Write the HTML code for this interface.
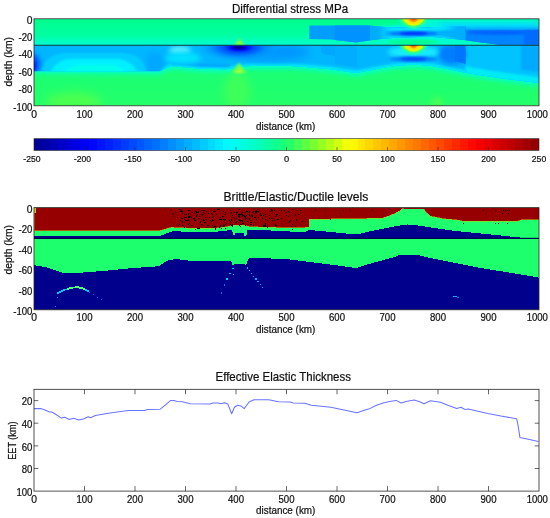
<!DOCTYPE html>
<html><head><meta charset="utf-8"><title>Figure</title>
<style>html,body{margin:0;padding:0;background:#fff}svg{display:block}text{stroke:#111;stroke-width:.22px}</style></head>
<body>
<svg width="550" height="518" viewBox="0 0 550 518" font-family='"Liberation Sans", sans-serif' fill="#111">
<defs>
<filter id="b1" x="-30%" y="-150%" width="160%" height="400%"><feGaussianBlur stdDeviation="1.2"/></filter>
<filter id="b2" x="-30%" y="-150%" width="160%" height="400%"><feGaussianBlur stdDeviation="2.5"/></filter>
<filter id="b3" x="-30%" y="-150%" width="160%" height="400%"><feGaussianBlur stdDeviation="4"/></filter>
<clipPath id="c1"><rect x="34.0" y="18.8" width="505.0" height="87.0"/></clipPath>
<clipPath id="c2"><rect x="34.0" y="207.6" width="505.0" height="102.20000000000002"/></clipPath>
</defs>
<defs>
<linearGradient id="gu" x1="0" y1="0" x2="0" y2="1"><stop offset="0" stop-color="#00ff8c"/><stop offset="0.6" stop-color="#00ffa0"/><stop offset="1" stop-color="#00ffd0"/></linearGradient>
<linearGradient id="gl" x1="0" y1="0" x2="0" y2="1"><stop offset="0" stop-color="#14ff7d"/><stop offset="1" stop-color="#23ff69"/></linearGradient>
<radialGradient id="hs"><stop offset="0" stop-color="#ff2800"/><stop offset="0.28" stop-color="#ff9600"/><stop offset="0.48" stop-color="#f5fa00"/><stop offset="0.7" stop-color="#82ff3c"/><stop offset="1" stop-color="#28ff82" stop-opacity="0"/></radialGradient>
<radialGradient id="ds"><stop offset="0" stop-color="#00008c"/><stop offset="0.09" stop-color="#0000a5"/><stop offset="0.17" stop-color="#0000f0"/><stop offset="0.34" stop-color="#004bff"/><stop offset="0.62" stop-color="#008aff"/><stop offset="1" stop-color="#00acff" stop-opacity="0"/></radialGradient>
<clipPath id="cu"><rect x="34.0" y="18.8" width="505.0" height="26.45"/></clipPath>
<clipPath id="cl"><rect x="34.0" y="45.25" width="505.0" height="60.55"/></clipPath>
<clipPath id="cb"><polygon points="34.0,45.2 539.0,45.2 539.0,83.0 507.0,79.0 481.0,75.3 465.6,72.8 450.0,69.5 432.0,66.0 420.0,65.0 413.0,64.8 407.0,65.0 394.5,66.0 382.0,68.0 369.0,70.5 356.0,73.0 331.0,69.2 305.0,67.0 290.0,66.0 250.0,66.0 226.0,69.2 201.0,68.7 175.5,66.4 168.0,67.2 160.0,71.3 34.0,71.3"/></clipPath>
<clipPath id="cub"><polygon points="309.3,25.5 369.0,25.5 385.0,27.0 400.0,27.5 413.0,27.5 426.0,27.5 440.0,27.0 465.6,26.5 465.6,29.8 539.0,29.8 539.0,44.8 499.0,44.7 481.0,42.4 465.6,40.2 440.0,37.4 426.0,36.6 413.0,37.3 400.0,37.5 385.0,38.5 369.0,40.5 356.0,42.5 331.0,39.5 309.3,39.0"/></clipPath>
<filter id="b0" x="-10%" y="-50%" width="120%" height="200%"><feGaussianBlur stdDeviation="0.6"/></filter>
</defs>
<g clip-path="url(#c1)">
<rect x="34.0" y="18.8" width="505.0" height="26.45" fill="url(#gu)"/>
<rect x="34.0" y="45.25" width="505.0" height="60.55" fill="url(#gl)"/>
<ellipse cx="74" cy="102" rx="28" ry="10" fill="#4bff50" filter="url(#b3)"/>
<ellipse cx="237" cy="92" rx="13" ry="20" fill="#3cff5a" filter="url(#b3)"/>
<ellipse cx="437" cy="103" rx="6" ry="6" fill="#46ff55" filter="url(#b2)"/>
<g clip-path="url(#cl)">
<polygon points="34.0,45.2 539.0,45.2 539.0,85.5 507.0,81.5 481.0,77.8 465.6,75.3 450.0,72.0 432.0,68.5 420.0,67.5 413.0,67.3 407.0,67.5 394.5,68.5 382.0,70.5 369.0,73.0 356.0,75.5 331.0,71.7 305.0,69.5 290.0,68.5 250.0,68.5 226.0,71.7 201.0,71.2 175.5,68.9 168.0,69.7 160.0,73.8 34.0,72.9" fill="#00ffd7" filter="url(#b2)"/>
<g filter="url(#b0)"><g clip-path="url(#cb)">
<rect x="34.0" y="43.25" width="505.0" height="40" fill="#00b6ff"/>
<polygon points="160.0,67.5 168.0,63.4 175.5,62.6 201.0,64.9 226.0,65.4 250.0,62.2 290.0,62.2 305.0,63.2 331.0,65.4 356.0,69.2 369.0,66.7 382.0,64.2 394.5,62.2 407.0,61.2 413.0,61.0 420.0,61.2 432.0,62.2 450.0,65.7 465.6,69.0 481.0,71.5 507.0,75.2 539.0,79.2 539.0,90.0 160.0,90.0" fill="#00c6ff" filter="url(#b1)"/>
<polygon points="160.0,69.6 168.0,65.5 175.5,64.7 201.0,67.0 226.0,67.5 250.0,64.3 290.0,64.3 305.0,65.3 331.0,67.5 356.0,71.3 369.0,68.8 382.0,66.3 394.5,64.3 407.0,63.3 413.0,63.1 420.0,63.3 432.0,64.3 450.0,67.8 465.6,71.1 481.0,73.6 507.0,77.3 539.0,81.3 539.0,90.0 160.0,90.0" fill="#00f0f0" filter="url(#b1)"/>
<rect x="41" y="53" width="106" height="42" rx="24" fill="#00cdff" filter="url(#b1)"/>
<rect x="50" y="59" width="88" height="36" rx="22" fill="#00f0ff" filter="url(#b1)"/>
<rect x="62" y="65" width="66" height="30" rx="18" fill="#00ffeb" filter="url(#b1)"/>
<ellipse cx="33" cy="64" rx="7" ry="10" fill="#004bff" filter="url(#b2)"/>
<ellipse cx="32" cy="66" rx="4" ry="6" fill="#001eff" filter="url(#b1)"/>
<polygon points="147.0,53.0 160.0,53.0 166.0,62.0 160.0,73.0 147.0,73.0" fill="#00a8ff" filter="url(#b2)"/>
<polygon points="172.0,62.5 201.0,64.5 230.0,65.0 230.0,66.8 201.0,66.5 172.0,64.3" fill="#0096ff" filter="url(#b1)"/>
<ellipse cx="180" cy="50.5" rx="11" ry="4.5" fill="#5af0ff" filter="url(#b2)"/>
<ellipse cx="183" cy="58" rx="18" ry="6" fill="#00e1ff" filter="url(#b2)"/>
<polygon points="465.6,43.2 539.0,43.2 539.0,90.0 465.6,90.0" fill="#00c3ff"/>
<polygon points="465.6,66.0 481.0,69.0 507.0,73.0 539.0,77.0 539.0,90.0 465.6,90.0" fill="#00ebf5" filter="url(#b1)"/>
<polygon points="521.0,43.2 539.0,43.2 539.0,72.0 521.0,70.0" fill="#00aaff" filter="url(#b1)"/>
<ellipse cx="452" cy="54" rx="14" ry="10" fill="#007dff" filter="url(#b2)"/>
<polygon points="455.0,43.2 465.6,43.2 465.6,64.0 455.0,61.0" fill="#0076ff" filter="url(#b0)"/>
<polygon points="320.0,43.2 335.0,43.2 335.0,56.0 322.0,54.0" fill="#00a8ff" filter="url(#b0)"/>
<polygon points="335.0,43.2 357.0,43.2 357.0,67.0 335.0,64.0" fill="#00adff" filter="url(#b0)"/>
<ellipse cx="413.5" cy="52" rx="26" ry="5.5" fill="#14eeff" filter="url(#b2)"/>
<ellipse cx="413.5" cy="59" rx="24" ry="2.6" fill="#0082ff" filter="url(#b1)"/>
<ellipse cx="413.5" cy="59" rx="13" ry="1.7" fill="#0046ff" filter="url(#b1)"/>
<ellipse cx="270" cy="52" rx="40" ry="9" fill="#0096ff" filter="url(#b3)"/>
<ellipse cx="239.2" cy="47.4" rx="42" ry="14.5" fill="url(#ds)"/>
</g></g>
<polygon points="398.5,44.6 428.5,44.6 425.5,49.5 419.8,53.5 413.5,54.8 407.2,53.5 401.5,49.5" fill="#00ffc8" filter="url(#b1)"/>
<polygon points="400.9,44.6 426.1,44.6 423.6,48.8 418.8,52.0 413.5,53.2 408.2,52.0 403.4,48.8" fill="#64ff50" filter="url(#b1)"/>
<polygon points="403.1,44.6 423.9,44.6 421.8,48.2 417.9,50.8 413.5,51.8 409.1,50.8 405.2,48.2" fill="#d7ff00" filter="url(#b0)"/>
<polygon points="406.1,44.6 420.9,44.6 419.4,47.5 416.6,49.5 413.5,50.2 410.4,49.5 407.6,47.5" fill="#ffe100" filter="url(#b0)"/>
<polygon points="408.9,44.6 418.1,44.6 417.2,46.8 415.4,48.1 413.5,48.5 411.6,48.1 409.8,46.8" fill="#ffa000" filter="url(#b0)"/>
<polygon points="411.1,44.6 415.9,44.6 415.4,46.2 414.5,46.9 413.5,47.1 412.5,46.9 411.6,46.2" fill="#ff6400" filter="url(#b0)"/>
</g>
<polygon points="232.0,73.0 246.5,73.0 238.9,62.5" fill="#73ff46" filter="url(#b1)"/>
<ellipse cx="239" cy="71.2" rx="3.5" ry="1.6" fill="#aaff3c" filter="url(#b1)"/>
<g clip-path="url(#cu)">
<polygon points="420.0,20.0 539.0,20.0 539.0,30.0 465.0,30.0 420.0,27.0" fill="#00f5e1" filter="url(#b2)"/>
<polygon points="440.0,23.5 539.0,23.5 539.0,31.0 440.0,31.0" fill="#00d7ff" filter="url(#b2)"/>
<polygon points="465.6,27.0 539.0,27.0 539.0,31.0 465.6,31.0" fill="#00b4ff" filter="url(#b1)"/>
<polygon points="430.0,36.0 465.6,40.5 481.0,43.0 501.0,45.0 430.0,45.0" fill="#00ffcd" filter="url(#b1)"/>
<polygon points="378.0,26.5 400.0,25.0 427.0,25.0 450.0,26.5 450.0,39.5 427.0,39.0 400.0,39.0 378.0,39.8" fill="#00f5e8" filter="url(#b1)"/>
<ellipse cx="413.5" cy="42" rx="26" ry="2.2" fill="#00ff8c" filter="url(#b1)"/>
<g filter="url(#b0)"><g clip-path="url(#cub)">
<rect x="309" y="18.8" width="231" height="26.45" fill="#009eff"/>
<polygon points="334.7,20.0 370.0,20.0 370.0,45.0 334.7,45.0" fill="#0092ff"/>
<polygon points="370.0,20.0 465.6,20.0 465.6,45.0 370.0,45.0" fill="#00acff"/>
<polygon points="384.0,20.0 452.0,20.0 452.0,45.0 384.0,45.0" fill="#00e4ff" filter="url(#b3)"/>
<polygon points="385.0,30.5 400.0,31.5 427.0,31.5 442.0,30.5 465.6,28.5 465.6,39.0 442.0,36.5 427.0,35.5 400.0,35.5 385.0,36.5" fill="#00afff" filter="url(#b1)"/>
<ellipse cx="413.5" cy="33.5" rx="24" ry="2.3" fill="#0078ff" filter="url(#b1)"/>
<ellipse cx="413.5" cy="33.5" rx="14" ry="1.6" fill="#002dff" filter="url(#b1)"/>
<polygon points="465.6,20.0 539.0,20.0 539.0,45.0 465.6,45.0" fill="#0084ff"/>
<ellipse cx="500" cy="32.6" rx="33" ry="2.4" fill="#0064ff" filter="url(#b1)"/>
<polygon points="524.0,20.0 539.0,20.0 539.0,45.0 524.0,45.0" fill="#006cff" filter="url(#b1)"/>
</g></g>
<polygon points="397.4,18.2 429.6,18.2 426.3,23.4 420.2,27.7 413.5,29.2 406.8,27.7 400.7,23.4" fill="#00ffc8" filter="url(#b1)"/>
<polygon points="400.0,18.2 427.0,18.2 424.3,22.6 419.2,26.1 413.5,27.4 407.8,26.1 402.7,22.6" fill="#64ff50" filter="url(#b1)"/>
<polygon points="402.4,18.2 424.6,18.2 422.4,22.0 418.2,24.9 413.5,25.8 408.8,24.9 404.6,22.0" fill="#d7ff00" filter="url(#b0)"/>
<polygon points="405.6,18.2 421.4,18.2 419.8,21.3 416.8,23.4 413.5,24.1 410.2,23.4 407.2,21.3" fill="#ffe100" filter="url(#b0)"/>
<polygon points="408.6,18.2 418.4,18.2 417.4,20.5 415.6,21.9 413.5,22.3 411.4,21.9 409.6,20.5" fill="#ffa000" filter="url(#b0)"/>
<polygon points="410.9,18.2 416.1,18.2 415.6,19.9 414.6,20.6 413.5,20.8 412.4,20.6 411.4,19.9" fill="#ff6400" filter="url(#b0)"/>
<polygon points="234.0,45.5 245.5,45.5 239.5,38.0" fill="#69ff50" filter="url(#b1)"/>
<ellipse cx="239.5" cy="43.5" rx="2.5" ry="1.3" fill="#96ff3c" filter="url(#b1)"/>
</g>
<path d="M34.0 45.25H539.0" stroke="#102030" stroke-width="0.9"/>
</g>
<defs><linearGradient id="cbg" x1="0" y1="0" x2="1" y2="0"><stop offset="0.00000" stop-color="#000097"/><stop offset="0.01562" stop-color="#000097"/><stop offset="0.01562" stop-color="#0000a7"/><stop offset="0.03125" stop-color="#0000a7"/><stop offset="0.03125" stop-color="#0000b7"/><stop offset="0.04688" stop-color="#0000b7"/><stop offset="0.04688" stop-color="#0000c7"/><stop offset="0.06250" stop-color="#0000c7"/><stop offset="0.06250" stop-color="#0000d7"/><stop offset="0.07812" stop-color="#0000d7"/><stop offset="0.07812" stop-color="#0000e6"/><stop offset="0.09375" stop-color="#0000e6"/><stop offset="0.09375" stop-color="#0000f6"/><stop offset="0.10938" stop-color="#0000f6"/><stop offset="0.10938" stop-color="#0006ff"/><stop offset="0.12500" stop-color="#0006ff"/><stop offset="0.12500" stop-color="#0014ff"/><stop offset="0.14062" stop-color="#0014ff"/><stop offset="0.14062" stop-color="#0021ff"/><stop offset="0.15625" stop-color="#0021ff"/><stop offset="0.15625" stop-color="#002eff"/><stop offset="0.17188" stop-color="#002eff"/><stop offset="0.17188" stop-color="#003cff"/><stop offset="0.18750" stop-color="#003cff"/><stop offset="0.18750" stop-color="#0049ff"/><stop offset="0.20312" stop-color="#0049ff"/><stop offset="0.20312" stop-color="#0057ff"/><stop offset="0.21875" stop-color="#0057ff"/><stop offset="0.21875" stop-color="#0064ff"/><stop offset="0.23438" stop-color="#0064ff"/><stop offset="0.23438" stop-color="#0071ff"/><stop offset="0.25000" stop-color="#0071ff"/><stop offset="0.25000" stop-color="#0080ff"/><stop offset="0.26562" stop-color="#0080ff"/><stop offset="0.26562" stop-color="#008fff"/><stop offset="0.28125" stop-color="#008fff"/><stop offset="0.28125" stop-color="#009eff"/><stop offset="0.29688" stop-color="#009eff"/><stop offset="0.29688" stop-color="#00adff"/><stop offset="0.31250" stop-color="#00adff"/><stop offset="0.31250" stop-color="#00bcff"/><stop offset="0.32812" stop-color="#00bcff"/><stop offset="0.32812" stop-color="#00cbff"/><stop offset="0.34375" stop-color="#00cbff"/><stop offset="0.34375" stop-color="#00dbff"/><stop offset="0.35938" stop-color="#00dbff"/><stop offset="0.35938" stop-color="#00eaff"/><stop offset="0.37500" stop-color="#00eaff"/><stop offset="0.37500" stop-color="#00f9ff"/><stop offset="0.39062" stop-color="#00f9ff"/><stop offset="0.39062" stop-color="#00fbf0"/><stop offset="0.40625" stop-color="#00fbf0"/><stop offset="0.40625" stop-color="#00fddf"/><stop offset="0.42188" stop-color="#00fddf"/><stop offset="0.42188" stop-color="#00fece"/><stop offset="0.43750" stop-color="#00fece"/><stop offset="0.43750" stop-color="#02ffbc"/><stop offset="0.45312" stop-color="#02ffbc"/><stop offset="0.45312" stop-color="#09ffa7"/><stop offset="0.46875" stop-color="#09ffa7"/><stop offset="0.46875" stop-color="#0fff92"/><stop offset="0.48438" stop-color="#0fff92"/><stop offset="0.48438" stop-color="#16ff7d"/><stop offset="0.50000" stop-color="#16ff7d"/><stop offset="0.50000" stop-color="#27ff69"/><stop offset="0.51562" stop-color="#27ff69"/><stop offset="0.51562" stop-color="#42ff56"/><stop offset="0.53125" stop-color="#42ff56"/><stop offset="0.53125" stop-color="#5dff42"/><stop offset="0.54688" stop-color="#5dff42"/><stop offset="0.54688" stop-color="#79ff2f"/><stop offset="0.56250" stop-color="#79ff2f"/><stop offset="0.56250" stop-color="#96ff22"/><stop offset="0.57812" stop-color="#96ff22"/><stop offset="0.57812" stop-color="#b4ff18"/><stop offset="0.59375" stop-color="#b4ff18"/><stop offset="0.59375" stop-color="#d2ff0e"/><stop offset="0.60938" stop-color="#d2ff0e"/><stop offset="0.60938" stop-color="#f0ff05"/><stop offset="0.62500" stop-color="#f0ff05"/><stop offset="0.62500" stop-color="#fff700"/><stop offset="0.64062" stop-color="#fff700"/><stop offset="0.64062" stop-color="#ffe700"/><stop offset="0.65625" stop-color="#ffe700"/><stop offset="0.65625" stop-color="#ffd700"/><stop offset="0.67188" stop-color="#ffd700"/><stop offset="0.67188" stop-color="#ffc700"/><stop offset="0.68750" stop-color="#ffc700"/><stop offset="0.68750" stop-color="#ffb800"/><stop offset="0.70312" stop-color="#ffb800"/><stop offset="0.70312" stop-color="#ffa800"/><stop offset="0.71875" stop-color="#ffa800"/><stop offset="0.71875" stop-color="#ff9800"/><stop offset="0.73438" stop-color="#ff9800"/><stop offset="0.73438" stop-color="#ff8800"/><stop offset="0.75000" stop-color="#ff8800"/><stop offset="0.75000" stop-color="#ff7800"/><stop offset="0.76562" stop-color="#ff7800"/><stop offset="0.76562" stop-color="#ff6800"/><stop offset="0.78125" stop-color="#ff6800"/><stop offset="0.78125" stop-color="#ff5800"/><stop offset="0.79688" stop-color="#ff5800"/><stop offset="0.79688" stop-color="#ff4800"/><stop offset="0.81250" stop-color="#ff4800"/><stop offset="0.81250" stop-color="#ff3800"/><stop offset="0.82812" stop-color="#ff3800"/><stop offset="0.82812" stop-color="#ff2800"/><stop offset="0.84375" stop-color="#ff2800"/><stop offset="0.84375" stop-color="#ff1800"/><stop offset="0.85938" stop-color="#ff1800"/><stop offset="0.85938" stop-color="#ff0800"/><stop offset="0.87500" stop-color="#ff0800"/><stop offset="0.87500" stop-color="#f80000"/><stop offset="0.89062" stop-color="#f80000"/><stop offset="0.89062" stop-color="#e90000"/><stop offset="0.90625" stop-color="#e90000"/><stop offset="0.90625" stop-color="#db0000"/><stop offset="0.92188" stop-color="#db0000"/><stop offset="0.92188" stop-color="#cd0000"/><stop offset="0.93750" stop-color="#cd0000"/><stop offset="0.93750" stop-color="#be0000"/><stop offset="0.95312" stop-color="#be0000"/><stop offset="0.95312" stop-color="#b00000"/><stop offset="0.96875" stop-color="#b00000"/><stop offset="0.96875" stop-color="#a20000"/><stop offset="0.98438" stop-color="#a20000"/><stop offset="0.98438" stop-color="#930000"/><stop offset="1.00000" stop-color="#930000"/></linearGradient></defs>
<rect x="34.0" y="138.7" width="505.0" height="11.7" fill="url(#cbg)" stroke="#262626" stroke-width="0.6"/>
<text x="31.9" y="162.4" font-size="9.3" text-anchor="middle" textLength="17.3" lengthAdjust="spacingAndGlyphs">-250</text>
<path d="M84.5 150.4v-3.2" stroke="#262626" stroke-width="0.6"/>
<text x="82.4" y="162.4" font-size="9.3" text-anchor="middle" textLength="17.3" lengthAdjust="spacingAndGlyphs">-200</text>
<path d="M135.0 150.4v-3.2" stroke="#262626" stroke-width="0.6"/>
<text x="132.9" y="162.4" font-size="9.3" text-anchor="middle" textLength="17.3" lengthAdjust="spacingAndGlyphs">-150</text>
<path d="M185.5 150.4v-3.2" stroke="#262626" stroke-width="0.6"/>
<text x="183.4" y="162.4" font-size="9.3" text-anchor="middle" textLength="17.3" lengthAdjust="spacingAndGlyphs">-100</text>
<path d="M236.0 150.4v-3.2" stroke="#262626" stroke-width="0.6"/>
<text x="233.9" y="162.4" font-size="9.3" text-anchor="middle" textLength="12.5" lengthAdjust="spacingAndGlyphs">-50</text>
<path d="M286.5 150.4v-3.2" stroke="#262626" stroke-width="0.6"/>
<text x="286.5" y="162.4" font-size="9.3" text-anchor="middle">0</text>
<path d="M337.0 150.4v-3.2" stroke="#262626" stroke-width="0.6"/>
<text x="337.0" y="162.4" font-size="9.3" text-anchor="middle" textLength="9.6" lengthAdjust="spacingAndGlyphs">50</text>
<path d="M387.5 150.4v-3.2" stroke="#262626" stroke-width="0.6"/>
<text x="387.5" y="162.4" font-size="9.3" text-anchor="middle" textLength="14.4" lengthAdjust="spacingAndGlyphs">100</text>
<path d="M438.0 150.4v-3.2" stroke="#262626" stroke-width="0.6"/>
<text x="438.0" y="162.4" font-size="9.3" text-anchor="middle" textLength="14.4" lengthAdjust="spacingAndGlyphs">150</text>
<path d="M488.5 150.4v-3.2" stroke="#262626" stroke-width="0.6"/>
<text x="488.5" y="162.4" font-size="9.3" text-anchor="middle" textLength="14.4" lengthAdjust="spacingAndGlyphs">200</text>
<text x="539.0" y="162.4" font-size="9.3" text-anchor="middle" textLength="14.4" lengthAdjust="spacingAndGlyphs">250</text>
<g clip-path="url(#c2)" shape-rendering="crispEdges">
<rect x="34.0" y="207.6" width="505.0" height="102.20000000000002" fill="#00008c"/>
<rect x="34.0" y="207.6" width="505.0" height="28.9" fill="#1eff6e"/>
<polygon points="34.0,238.9 539.0,238.9 539.0,277.8 532.3,276.3 506.8,272.2 481.4,268.1 456.0,263.0 430.5,258.0 417.7,254.9 399.6,254.9 394.5,257.0 381.8,260.5 369.0,264.0 356.4,268.1 331.0,264.6 305.5,261.5 290.0,259.5 264.5,258.2 252.4,257.8 248.6,258.6 247.2,262.0 246.0,266.2 244.2,263.6 234.2,263.6 233.0,266.8 232.2,263.6 230.3,260.4 226.0,261.0 213.6,261.2 188.0,260.5 175.5,259.0 167.8,260.5 160.0,265.1 159.8,266.1 147.0,267.1 131.8,268.1 106.4,270.7 81.0,272.7 63.0,272.7 45.0,267.0 34.0,265.1" fill="#1eff6e"/>
<polygon points="34.0,236.3 155.0,236.3 160.0,235.8 173.0,231.0 195.8,232.5 213.6,232.0 226.0,230.6 231.9,230.0 233.6,234.8 235.2,234.8 235.5,232.6 244.0,232.6 244.4,235.6 246.4,235.6 247.0,229.6 264.5,230.2 290.0,231.5 305.5,231.5 309.3,230.0 331.0,232.0 356.4,234.5 369.0,231.5 381.8,229.0 394.5,226.4 407.3,224.4 417.7,225.4 430.5,227.4 456.0,231.0 481.4,233.5 506.8,236.1 519.5,237.6 539.0,238.9 34.0,238.9" fill="#00008c"/>
<rect x="519.5" y="236" width="20" height="1.9" fill="#1eff6e"/>
<polygon points="34.0,207.6 539.0,207.6 539.0,219.8 522.0,219.8 517.0,221.3 463.5,221.3 456.0,219.8 443.0,218.8 430.5,216.2 425.4,211.6 424.0,208.8 404.7,208.8 402.0,209.0 394.5,213.7 387.0,216.7 381.8,218.3 309.3,219.3 309.3,227.4 290.0,227.9 272.0,227.4 258.0,227.0 249.0,226.5 244.0,225.1 235.0,225.1 231.0,225.8 226.0,226.9 213.6,228.4 195.8,228.4 171.6,227.4 160.0,230.5 34.0,230.5" fill="#960000" stroke="#c8c000" stroke-width="0.5"/>
<rect x="404" y="207.6" width="21" height="1.7" fill="#960000"/>
<rect x="34.0" y="207.6" width="1.8" height="5.6" fill="#ffb000"/><rect x="34.0" y="207.6" width="1.3" height="5.4" fill="#40ff70"/>
<rect x="34.0" y="237.8" width="505.0" height="1.1" fill="#000048" shape-rendering="geometricPrecision"/>
<rect x="57.0" y="291.8" width="2" height="1.7" fill="#00c8ff"/>
<rect x="59.0" y="290.8" width="2" height="1.7" fill="#00c8ff"/>
<rect x="61.0" y="289.8" width="2" height="1.7" fill="#00c8ff"/>
<rect x="63.0" y="289.2" width="2" height="1.7" fill="#00c8ff"/>
<rect x="65.0" y="288.6" width="2" height="1.7" fill="#00c8ff"/>
<rect x="67.0" y="287.8" width="2" height="1.7" fill="#50ff80"/>
<rect x="69.0" y="287.2" width="2" height="1.7" fill="#50ff80"/>
<rect x="71.0" y="286.8" width="2" height="1.7" fill="#50ff80"/>
<rect x="73.0" y="286.6" width="2" height="1.7" fill="#50ff80"/>
<rect x="75.0" y="286.4" width="2" height="1.7" fill="#50ff80"/>
<rect x="77.0" y="286.4" width="2" height="1.7" fill="#50ff80"/>
<rect x="79.0" y="286.8" width="2" height="1.7" fill="#50ff80"/>
<rect x="81.0" y="287.4" width="2" height="1.7" fill="#50ff80"/>
<rect x="83.0" y="288.2" width="2" height="1.7" fill="#50ff80"/>
<rect x="85.0" y="289.2" width="2" height="1.7" fill="#00c8ff"/>
<rect x="87.0" y="290.4" width="2" height="1.7" fill="#00c8ff"/>
<rect x="89.0" y="291.6" width="1.4" height="1.4" fill="#0060ff"/>
<rect x="93.0" y="294.0" width="1.4" height="1.4" fill="#0060ff"/>
<rect x="97.0" y="296.6" width="1.4" height="1.4" fill="#0060ff"/>
<rect x="101.0" y="298.8" width="1.4" height="1.4" fill="#0060ff"/>
<rect x="55" y="306" width="1.2" height="1.2" fill="#0080ff"/><rect x="57" y="296.5" width="1.2" height="1.2" fill="#0080ff"/>
<rect x="232.3" y="267.8" width="1.2" height="1.2" fill="#00d0ff"/>
<rect x="229.3" y="273.1" width="1.2" height="1.2" fill="#00d0ff"/>
<rect x="226.4" y="278.4" width="1.2" height="1.2" fill="#00d0ff"/>
<rect x="223.9" y="284.4" width="1.2" height="1.2" fill="#0070ff"/>
<rect x="221.2" y="292.4" width="1.2" height="1.2" fill="#0070ff"/>
<rect x="246.9" y="267.3" width="1.2" height="1.2" fill="#00b0ff"/>
<rect x="249.0" y="270.1" width="1.2" height="1.2" fill="#00b0ff"/>
<rect x="251.1" y="272.8" width="1.2" height="1.2" fill="#00b0ff"/>
<rect x="253.2" y="275.6" width="1.2" height="1.2" fill="#00b0ff"/>
<rect x="255.3" y="278.3" width="1.2" height="1.2" fill="#00b0ff"/>
<rect x="257.4" y="281.1" width="1.2" height="1.2" fill="#00b0ff"/>
<rect x="259.5" y="283.8" width="1.2" height="1.2" fill="#00b0ff"/>
<rect x="261.6" y="286.6" width="1.2" height="1.2" fill="#00b0ff"/>
<rect x="453.4" y="296.2" width="3.5" height="0.8" fill="#00b4ff"/><rect x="457.2" y="297" width="1.6" height="0.8" fill="#0070ff"/>
<rect x="233" y="274" width="1" height="1" fill="#00c0ff"/>
<rect x="170" y="210" width="1.35" height="1.35" fill="#0c0000"/>
<rect x="172" y="213" width="1.35" height="1.35" fill="#0c0000"/>
<rect x="173" y="214" width="1.35" height="1.35" fill="#0c0000"/>
<rect x="173" y="216" width="1.35" height="1.35" fill="#0c0000"/>
<rect x="175" y="212" width="1.35" height="1.35" fill="#0c0000"/>
<rect x="178" y="225" width="1.35" height="1.35" fill="#0c0000"/>
<rect x="179" y="209" width="1.35" height="1.35" fill="#0c0000"/>
<rect x="179" y="224" width="1.35" height="1.35" fill="#0c0000"/>
<rect x="180" y="209" width="1.35" height="1.35" fill="#0c0000"/>
<rect x="180" y="211" width="1.35" height="1.35" fill="#0c0000"/>
<rect x="180" y="220" width="1.35" height="1.35" fill="#0c0000"/>
<rect x="181" y="210" width="1.35" height="1.35" fill="#0c0000"/>
<rect x="181" y="211" width="1.35" height="1.35" fill="#0c0000"/>
<rect x="181" y="218" width="1.35" height="1.35" fill="#0c0000"/>
<rect x="182" y="211" width="1.35" height="1.35" fill="#0c0000"/>
<rect x="182" y="213" width="1.35" height="1.35" fill="#0c0000"/>
<rect x="182" y="218" width="1.35" height="1.35" fill="#0c0000"/>
<rect x="182" y="221" width="1.35" height="1.35" fill="#0c0000"/>
<rect x="182" y="222" width="1.35" height="1.35" fill="#0c0000"/>
<rect x="182" y="225" width="1.35" height="1.35" fill="#0c0000"/>
<rect x="184" y="214" width="1.35" height="1.35" fill="#0c0000"/>
<rect x="184" y="217" width="1.35" height="1.35" fill="#0c0000"/>
<rect x="184" y="219" width="1.35" height="1.35" fill="#0c0000"/>
<rect x="184" y="227" width="1.35" height="1.35" fill="#0c0000"/>
<rect x="185" y="217" width="1.35" height="1.35" fill="#0c0000"/>
<rect x="185" y="220" width="1.35" height="1.35" fill="#0c0000"/>
<rect x="186" y="214" width="1.35" height="1.35" fill="#0c0000"/>
<rect x="186" y="217" width="1.35" height="1.35" fill="#0c0000"/>
<rect x="186" y="220" width="1.35" height="1.35" fill="#0c0000"/>
<rect x="187" y="220" width="1.35" height="1.35" fill="#0c0000"/>
<rect x="188" y="210" width="1.35" height="1.35" fill="#0c0000"/>
<rect x="188" y="214" width="1.35" height="1.35" fill="#0c0000"/>
<rect x="188" y="216" width="1.35" height="1.35" fill="#0c0000"/>
<rect x="188" y="217" width="1.35" height="1.35" fill="#0c0000"/>
<rect x="188" y="219" width="1.35" height="1.35" fill="#0c0000"/>
<rect x="188" y="220" width="1.35" height="1.35" fill="#0c0000"/>
<rect x="188" y="224" width="1.35" height="1.35" fill="#0c0000"/>
<rect x="189" y="210" width="1.35" height="1.35" fill="#0c0000"/>
<rect x="189" y="213" width="1.35" height="1.35" fill="#0c0000"/>
<rect x="189" y="216" width="1.35" height="1.35" fill="#0c0000"/>
<rect x="189" y="217" width="1.35" height="1.35" fill="#0c0000"/>
<rect x="189" y="223" width="1.35" height="1.35" fill="#0c0000"/>
<rect x="190" y="216" width="1.35" height="1.35" fill="#0c0000"/>
<rect x="191" y="217" width="1.35" height="1.35" fill="#0c0000"/>
<rect x="191" y="225" width="1.35" height="1.35" fill="#0c0000"/>
<rect x="192" y="212" width="1.35" height="1.35" fill="#0c0000"/>
<rect x="193" y="218" width="1.35" height="1.35" fill="#0c0000"/>
<rect x="194" y="213" width="1.35" height="1.35" fill="#0c0000"/>
<rect x="194" y="218" width="1.35" height="1.35" fill="#0c0000"/>
<rect x="194" y="219" width="1.35" height="1.35" fill="#0c0000"/>
<rect x="194" y="220" width="1.35" height="1.35" fill="#0c0000"/>
<rect x="195" y="211" width="1.35" height="1.35" fill="#0c0000"/>
<rect x="195" y="220" width="1.35" height="1.35" fill="#0c0000"/>
<rect x="195" y="229" width="1.35" height="1.35" fill="#0c0000"/>
<rect x="196" y="211" width="1.35" height="1.35" fill="#0c0000"/>
<rect x="196" y="212" width="1.35" height="1.35" fill="#0c0000"/>
<rect x="196" y="215" width="1.35" height="1.35" fill="#0c0000"/>
<rect x="196" y="216" width="1.35" height="1.35" fill="#0c0000"/>
<rect x="197" y="212" width="1.35" height="1.35" fill="#0c0000"/>
<rect x="197" y="214" width="1.35" height="1.35" fill="#0c0000"/>
<rect x="197" y="228" width="1.35" height="1.35" fill="#0c0000"/>
<rect x="198" y="211" width="1.35" height="1.35" fill="#0c0000"/>
<rect x="198" y="212" width="1.35" height="1.35" fill="#0c0000"/>
<rect x="198" y="218" width="1.35" height="1.35" fill="#0c0000"/>
<rect x="198" y="228" width="1.35" height="1.35" fill="#0c0000"/>
<rect x="199" y="216" width="1.35" height="1.35" fill="#0c0000"/>
<rect x="199" y="228" width="1.35" height="1.35" fill="#0c0000"/>
<rect x="200" y="221" width="1.35" height="1.35" fill="#0c0000"/>
<rect x="200" y="222" width="1.35" height="1.35" fill="#0c0000"/>
<rect x="201" y="210" width="1.35" height="1.35" fill="#0c0000"/>
<rect x="201" y="214" width="1.35" height="1.35" fill="#0c0000"/>
<rect x="201" y="219" width="1.35" height="1.35" fill="#0c0000"/>
<rect x="201" y="224" width="1.35" height="1.35" fill="#0c0000"/>
<rect x="202" y="214" width="1.35" height="1.35" fill="#0c0000"/>
<rect x="202" y="215" width="1.35" height="1.35" fill="#0c0000"/>
<rect x="202" y="225" width="1.35" height="1.35" fill="#0c0000"/>
<rect x="203" y="210" width="1.35" height="1.35" fill="#0c0000"/>
<rect x="203" y="212" width="1.35" height="1.35" fill="#0c0000"/>
<rect x="203" y="219" width="1.35" height="1.35" fill="#0c0000"/>
<rect x="203" y="220" width="1.35" height="1.35" fill="#0c0000"/>
<rect x="204" y="210" width="1.35" height="1.35" fill="#0c0000"/>
<rect x="204" y="213" width="1.35" height="1.35" fill="#0c0000"/>
<rect x="204" y="220" width="1.35" height="1.35" fill="#0c0000"/>
<rect x="204" y="222" width="1.35" height="1.35" fill="#0c0000"/>
<rect x="205" y="217" width="1.35" height="1.35" fill="#0c0000"/>
<rect x="205" y="222" width="1.35" height="1.35" fill="#0c0000"/>
<rect x="206" y="211" width="1.35" height="1.35" fill="#0c0000"/>
<rect x="206" y="219" width="1.35" height="1.35" fill="#0c0000"/>
<rect x="206" y="227" width="1.35" height="1.35" fill="#0c0000"/>
<rect x="207" y="225" width="1.35" height="1.35" fill="#0c0000"/>
<rect x="208" y="213" width="1.35" height="1.35" fill="#0c0000"/>
<rect x="208" y="225" width="1.35" height="1.35" fill="#0c0000"/>
<rect x="209" y="217" width="1.35" height="1.35" fill="#0c0000"/>
<rect x="210" y="220" width="1.35" height="1.35" fill="#0c0000"/>
<rect x="211" y="213" width="1.35" height="1.35" fill="#0c0000"/>
<rect x="211" y="221" width="1.35" height="1.35" fill="#0c0000"/>
<rect x="212" y="214" width="1.35" height="1.35" fill="#0c0000"/>
<rect x="212" y="217" width="1.35" height="1.35" fill="#0c0000"/>
<rect x="212" y="219" width="1.35" height="1.35" fill="#0c0000"/>
<rect x="212" y="220" width="1.35" height="1.35" fill="#0c0000"/>
<rect x="212" y="225" width="1.35" height="1.35" fill="#0c0000"/>
<rect x="213" y="211" width="1.35" height="1.35" fill="#0c0000"/>
<rect x="213" y="216" width="1.35" height="1.35" fill="#0c0000"/>
<rect x="213" y="220" width="1.35" height="1.35" fill="#0c0000"/>
<rect x="213" y="227" width="1.35" height="1.35" fill="#0c0000"/>
<rect x="214" y="209" width="1.35" height="1.35" fill="#0c0000"/>
<rect x="214" y="211" width="1.35" height="1.35" fill="#0c0000"/>
<rect x="214" y="226" width="1.35" height="1.35" fill="#0c0000"/>
<rect x="215" y="211" width="1.35" height="1.35" fill="#0c0000"/>
<rect x="215" y="226" width="1.35" height="1.35" fill="#0c0000"/>
<rect x="215" y="228" width="1.35" height="1.35" fill="#0c0000"/>
<rect x="215" y="229" width="1.35" height="1.35" fill="#0c0000"/>
<rect x="216" y="214" width="1.35" height="1.35" fill="#0c0000"/>
<rect x="217" y="209" width="1.35" height="1.35" fill="#0c0000"/>
<rect x="218" y="209" width="1.35" height="1.35" fill="#0c0000"/>
<rect x="219" y="209" width="1.35" height="1.35" fill="#0c0000"/>
<rect x="219" y="219" width="1.35" height="1.35" fill="#0c0000"/>
<rect x="219" y="227" width="1.35" height="1.35" fill="#0c0000"/>
<rect x="220" y="217" width="1.35" height="1.35" fill="#0c0000"/>
<rect x="220" y="219" width="1.35" height="1.35" fill="#0c0000"/>
<rect x="220" y="225" width="1.35" height="1.35" fill="#0c0000"/>
<rect x="220" y="226" width="1.35" height="1.35" fill="#0c0000"/>
<rect x="221" y="219" width="1.35" height="1.35" fill="#0c0000"/>
<rect x="221" y="228" width="1.35" height="1.35" fill="#0c0000"/>
<rect x="222" y="216" width="1.35" height="1.35" fill="#0c0000"/>
<rect x="223" y="211" width="1.35" height="1.35" fill="#0c0000"/>
<rect x="223" y="216" width="1.35" height="1.35" fill="#0c0000"/>
<rect x="223" y="219" width="1.35" height="1.35" fill="#0c0000"/>
<rect x="223" y="225" width="1.35" height="1.35" fill="#0c0000"/>
<rect x="223" y="226" width="1.35" height="1.35" fill="#0c0000"/>
<rect x="224" y="219" width="1.35" height="1.35" fill="#0c0000"/>
<rect x="224" y="220" width="1.35" height="1.35" fill="#0c0000"/>
<rect x="224" y="225" width="1.35" height="1.35" fill="#0c0000"/>
<rect x="225" y="212" width="1.35" height="1.35" fill="#0c0000"/>
<rect x="225" y="214" width="1.35" height="1.35" fill="#0c0000"/>
<rect x="225" y="219" width="1.35" height="1.35" fill="#0c0000"/>
<rect x="225" y="224" width="1.35" height="1.35" fill="#0c0000"/>
<rect x="225" y="228" width="1.35" height="1.35" fill="#0c0000"/>
<rect x="226" y="223" width="1.35" height="1.35" fill="#0c0000"/>
<rect x="229" y="220" width="1.35" height="1.35" fill="#0c0000"/>
<rect x="230" y="210" width="1.35" height="1.35" fill="#0c0000"/>
<rect x="230" y="213" width="1.35" height="1.35" fill="#0c0000"/>
<rect x="230" y="221" width="1.35" height="1.35" fill="#0c0000"/>
<rect x="230" y="224" width="1.35" height="1.35" fill="#0c0000"/>
<rect x="231" y="212" width="1.35" height="1.35" fill="#0c0000"/>
<rect x="231" y="219" width="1.35" height="1.35" fill="#0c0000"/>
<rect x="231" y="220" width="1.35" height="1.35" fill="#0c0000"/>
<rect x="231" y="225" width="1.35" height="1.35" fill="#0c0000"/>
<rect x="232" y="215" width="1.35" height="1.35" fill="#0c0000"/>
<rect x="232" y="224" width="1.35" height="1.35" fill="#0c0000"/>
<rect x="232" y="225" width="1.35" height="1.35" fill="#0c0000"/>
<rect x="232" y="226" width="1.35" height="1.35" fill="#0c0000"/>
<rect x="233" y="217" width="1.35" height="1.35" fill="#0c0000"/>
<rect x="234" y="212" width="1.35" height="1.35" fill="#0c0000"/>
<rect x="234" y="218" width="1.35" height="1.35" fill="#0c0000"/>
<rect x="234" y="220" width="1.35" height="1.35" fill="#0c0000"/>
<rect x="235" y="222" width="1.35" height="1.35" fill="#0c0000"/>
<rect x="236" y="212" width="1.35" height="1.35" fill="#0c0000"/>
<rect x="236" y="213" width="1.35" height="1.35" fill="#0c0000"/>
<rect x="236" y="214" width="1.35" height="1.35" fill="#0c0000"/>
<rect x="236" y="218" width="1.35" height="1.35" fill="#0c0000"/>
<rect x="236" y="222" width="1.35" height="1.35" fill="#0c0000"/>
<rect x="237" y="212" width="1.35" height="1.35" fill="#0c0000"/>
<rect x="237" y="221" width="1.35" height="1.35" fill="#0c0000"/>
<rect x="238" y="214" width="1.35" height="1.35" fill="#0c0000"/>
<rect x="238" y="216" width="1.35" height="1.35" fill="#0c0000"/>
<rect x="239" y="209" width="1.35" height="1.35" fill="#0c0000"/>
<rect x="239" y="214" width="1.35" height="1.35" fill="#0c0000"/>
<rect x="239" y="215" width="1.35" height="1.35" fill="#0c0000"/>
<rect x="239" y="216" width="1.35" height="1.35" fill="#0c0000"/>
<rect x="239" y="217" width="1.35" height="1.35" fill="#0c0000"/>
<rect x="239" y="219" width="1.35" height="1.35" fill="#0c0000"/>
<rect x="239" y="220" width="1.35" height="1.35" fill="#0c0000"/>
<rect x="239" y="225" width="1.35" height="1.35" fill="#0c0000"/>
<rect x="240" y="214" width="1.35" height="1.35" fill="#0c0000"/>
<rect x="240" y="220" width="1.35" height="1.35" fill="#0c0000"/>
<rect x="240" y="221" width="1.35" height="1.35" fill="#0c0000"/>
<rect x="240" y="224" width="1.35" height="1.35" fill="#0c0000"/>
<rect x="240" y="226" width="1.35" height="1.35" fill="#0c0000"/>
<rect x="241" y="213" width="1.35" height="1.35" fill="#0c0000"/>
<rect x="241" y="214" width="1.35" height="1.35" fill="#0c0000"/>
<rect x="241" y="220" width="1.35" height="1.35" fill="#0c0000"/>
<rect x="241" y="224" width="1.35" height="1.35" fill="#0c0000"/>
<rect x="242" y="212" width="1.35" height="1.35" fill="#0c0000"/>
<rect x="242" y="214" width="1.35" height="1.35" fill="#0c0000"/>
<rect x="242" y="215" width="1.35" height="1.35" fill="#0c0000"/>
<rect x="242" y="216" width="1.35" height="1.35" fill="#0c0000"/>
<rect x="242" y="220" width="1.35" height="1.35" fill="#0c0000"/>
<rect x="242" y="221" width="1.35" height="1.35" fill="#0c0000"/>
<rect x="242" y="223" width="1.35" height="1.35" fill="#0c0000"/>
<rect x="243" y="215" width="1.35" height="1.35" fill="#0c0000"/>
<rect x="243" y="223" width="1.35" height="1.35" fill="#0c0000"/>
<rect x="244" y="215" width="1.35" height="1.35" fill="#0c0000"/>
<rect x="244" y="216" width="1.35" height="1.35" fill="#0c0000"/>
<rect x="245" y="212" width="1.35" height="1.35" fill="#0c0000"/>
<rect x="245" y="216" width="1.35" height="1.35" fill="#0c0000"/>
<rect x="245" y="217" width="1.35" height="1.35" fill="#0c0000"/>
<rect x="245" y="218" width="1.35" height="1.35" fill="#0c0000"/>
<rect x="245" y="219" width="1.35" height="1.35" fill="#0c0000"/>
<rect x="245" y="225" width="1.35" height="1.35" fill="#0c0000"/>
<rect x="246" y="211" width="1.35" height="1.35" fill="#0c0000"/>
<rect x="246" y="215" width="1.35" height="1.35" fill="#0c0000"/>
<rect x="246" y="218" width="1.35" height="1.35" fill="#0c0000"/>
<rect x="247" y="211" width="1.35" height="1.35" fill="#0c0000"/>
<rect x="247" y="221" width="1.35" height="1.35" fill="#0c0000"/>
<rect x="249" y="211" width="1.35" height="1.35" fill="#0c0000"/>
<rect x="249" y="212" width="1.35" height="1.35" fill="#0c0000"/>
<rect x="249" y="214" width="1.35" height="1.35" fill="#0c0000"/>
<rect x="249" y="215" width="1.35" height="1.35" fill="#0c0000"/>
<rect x="249" y="218" width="1.35" height="1.35" fill="#0c0000"/>
<rect x="249" y="219" width="1.35" height="1.35" fill="#0c0000"/>
<rect x="250" y="216" width="1.35" height="1.35" fill="#0c0000"/>
<rect x="250" y="220" width="1.35" height="1.35" fill="#0c0000"/>
<rect x="250" y="222" width="1.35" height="1.35" fill="#0c0000"/>
<rect x="250" y="224" width="1.35" height="1.35" fill="#0c0000"/>
<rect x="251" y="215" width="1.35" height="1.35" fill="#0c0000"/>
<rect x="251" y="222" width="1.35" height="1.35" fill="#0c0000"/>
<rect x="251" y="224" width="1.35" height="1.35" fill="#0c0000"/>
<rect x="252" y="212" width="1.35" height="1.35" fill="#0c0000"/>
<rect x="252" y="215" width="1.35" height="1.35" fill="#0c0000"/>
<rect x="252" y="216" width="1.35" height="1.35" fill="#0c0000"/>
<rect x="253" y="211" width="1.35" height="1.35" fill="#0c0000"/>
<rect x="253" y="225" width="1.35" height="1.35" fill="#0c0000"/>
<rect x="254" y="213" width="1.35" height="1.35" fill="#0c0000"/>
<rect x="254" y="217" width="1.35" height="1.35" fill="#0c0000"/>
<rect x="255" y="211" width="1.35" height="1.35" fill="#0c0000"/>
<rect x="255" y="212" width="1.35" height="1.35" fill="#0c0000"/>
<rect x="255" y="217" width="1.35" height="1.35" fill="#0c0000"/>
<rect x="256" y="210" width="1.35" height="1.35" fill="#0c0000"/>
<rect x="256" y="211" width="1.35" height="1.35" fill="#0c0000"/>
<rect x="256" y="212" width="1.35" height="1.35" fill="#0c0000"/>
<rect x="256" y="219" width="1.35" height="1.35" fill="#0c0000"/>
<rect x="257" y="209" width="1.35" height="1.35" fill="#0c0000"/>
<rect x="257" y="211" width="1.35" height="1.35" fill="#0c0000"/>
<rect x="258" y="211" width="1.35" height="1.35" fill="#0c0000"/>
<rect x="258" y="217" width="1.35" height="1.35" fill="#0c0000"/>
<rect x="260" y="213" width="1.35" height="1.35" fill="#0c0000"/>
<rect x="260" y="214" width="1.35" height="1.35" fill="#0c0000"/>
<rect x="260" y="215" width="1.35" height="1.35" fill="#0c0000"/>
<rect x="261" y="215" width="1.35" height="1.35" fill="#0c0000"/>
<rect x="262" y="218" width="1.35" height="1.35" fill="#0c0000"/>
<rect x="263" y="215" width="1.35" height="1.35" fill="#0c0000"/>
<rect x="263" y="225" width="1.35" height="1.35" fill="#0c0000"/>
<rect x="263" y="226" width="1.35" height="1.35" fill="#0c0000"/>
<rect x="264" y="225" width="1.35" height="1.35" fill="#0c0000"/>
<rect x="264" y="226" width="1.35" height="1.35" fill="#0c0000"/>
<rect x="265" y="214" width="1.35" height="1.35" fill="#0c0000"/>
<rect x="265" y="216" width="1.35" height="1.35" fill="#0c0000"/>
<rect x="265" y="219" width="1.35" height="1.35" fill="#0c0000"/>
<rect x="265" y="223" width="1.35" height="1.35" fill="#0c0000"/>
<rect x="265" y="224" width="1.35" height="1.35" fill="#0c0000"/>
<rect x="265" y="225" width="1.35" height="1.35" fill="#0c0000"/>
<rect x="265" y="226" width="1.35" height="1.35" fill="#0c0000"/>
<rect x="267" y="220" width="1.35" height="1.35" fill="#0c0000"/>
<rect x="267" y="225" width="1.35" height="1.35" fill="#0c0000"/>
<rect x="267" y="227" width="1.35" height="1.35" fill="#0c0000"/>
<rect x="269" y="215" width="1.35" height="1.35" fill="#0c0000"/>
<rect x="269" y="218" width="1.35" height="1.35" fill="#0c0000"/>
<rect x="270" y="211" width="1.35" height="1.35" fill="#0c0000"/>
<rect x="271" y="209" width="1.35" height="1.35" fill="#0c0000"/>
<rect x="271" y="210" width="1.35" height="1.35" fill="#0c0000"/>
<rect x="271" y="218" width="1.35" height="1.35" fill="#0c0000"/>
<rect x="272" y="210" width="1.35" height="1.35" fill="#0c0000"/>
<rect x="272" y="220" width="1.35" height="1.35" fill="#0c0000"/>
<rect x="273" y="218" width="1.35" height="1.35" fill="#0c0000"/>
<rect x="274" y="210" width="1.35" height="1.35" fill="#0c0000"/>
<rect x="274" y="220" width="1.35" height="1.35" fill="#0c0000"/>
<rect x="275" y="216" width="1.35" height="1.35" fill="#0c0000"/>
<rect x="275" y="224" width="1.35" height="1.35" fill="#0c0000"/>
<rect x="275" y="225" width="1.35" height="1.35" fill="#0c0000"/>
<rect x="276" y="214" width="1.35" height="1.35" fill="#0c0000"/>
<rect x="276" y="215" width="1.35" height="1.35" fill="#0c0000"/>
<rect x="276" y="225" width="1.35" height="1.35" fill="#0c0000"/>
<rect x="277" y="214" width="1.35" height="1.35" fill="#0c0000"/>
<rect x="277" y="219" width="1.35" height="1.35" fill="#0c0000"/>
<rect x="278" y="219" width="1.35" height="1.35" fill="#0c0000"/>
<rect x="281" y="210" width="1.35" height="1.35" fill="#0c0000"/>
<rect x="281" y="218" width="1.35" height="1.35" fill="#0c0000"/>
<rect x="284" y="210" width="1.35" height="1.35" fill="#0c0000"/>
<rect x="286" y="212" width="1.35" height="1.35" fill="#0c0000"/>
<rect x="286" y="215" width="1.35" height="1.35" fill="#0c0000"/>
<rect x="288" y="211" width="1.35" height="1.35" fill="#0c0000"/>
<rect x="289" y="212" width="1.35" height="1.35" fill="#0c0000"/>
<rect x="289" y="221" width="1.35" height="1.35" fill="#0c0000"/>
<rect x="292" y="209" width="1.35" height="1.35" fill="#0c0000"/>
<rect x="292" y="229" width="1.35" height="1.35" fill="#0c0000"/>
<rect x="295" y="214" width="1.35" height="1.35" fill="#0c0000"/>
<rect x="295" y="215" width="1.35" height="1.35" fill="#0c0000"/>
<rect x="295" y="226" width="1.35" height="1.35" fill="#0c0000"/>
<rect x="296" y="219" width="1.35" height="1.35" fill="#0c0000"/>
<rect x="296" y="220" width="1.35" height="1.35" fill="#0c0000"/>
<rect x="298" y="214" width="1.35" height="1.35" fill="#0c0000"/>
<rect x="302" y="221" width="1.35" height="1.35" fill="#0c0000"/>
<rect x="483.1" y="209.6" width="1.1" height="1.1" fill="#100000"/>
<rect x="495.3" y="209.6" width="1.1" height="1.1" fill="#100000"/>
<rect x="503.0" y="209.6" width="1.1" height="1.1" fill="#100000"/>
<rect x="505.0" y="209.6" width="1.1" height="1.1" fill="#100000"/>
<rect x="507.0" y="209.6" width="1.1" height="1.1" fill="#100000"/>
<rect x="509.0" y="209.6" width="1.1" height="1.1" fill="#100000"/>
<rect x="501.7" y="212.9" width="1.1" height="1.1" fill="#100000"/>
<rect x="508.0" y="212.9" width="1.1" height="1.1" fill="#100000"/>
<rect x="463.0" y="222.8" width="1.1" height="1.1" fill="#100000"/>
<rect x="495.3" y="222.8" width="1.1" height="1.1" fill="#100000"/>
<rect x="497.9" y="222.8" width="1.1" height="1.1" fill="#100000"/>
<rect x="506.8" y="222.8" width="1.1" height="1.1" fill="#100000"/>
<rect x="300.0" y="209.6" width="1.1" height="1.1" fill="#100000"/>
<rect x="315.0" y="209.6" width="1.1" height="1.1" fill="#100000"/>
<rect x="350.0" y="209.6" width="1.1" height="1.1" fill="#100000"/>
<rect x="372.0" y="209.6" width="1.1" height="1.1" fill="#100000"/>
<rect x="325.0" y="209.6" width="1.1" height="1.1" fill="#100000"/>
<rect x="286.0" y="212.0" width="1.1" height="1.1" fill="#100000"/>
<rect x="288.0" y="216.0" width="1.1" height="1.1" fill="#100000"/>
<rect x="290.0" y="220.0" width="1.1" height="1.1" fill="#100000"/>
<rect x="292.0" y="224.0" width="1.1" height="1.1" fill="#100000"/>
<rect x="291.0" y="226.0" width="1.1" height="1.1" fill="#100000"/>
<rect x="297.0" y="210.0" width="1.1" height="1.1" fill="#100000"/>
<rect x="289.0" y="222.0" width="1.1" height="1.1" fill="#100000"/>
<rect x="343.0" y="209.6" width="1.1" height="1.1" fill="#100000"/>
<rect x="330.0" y="218.5" width="1.1" height="1.1" fill="#100000"/>
</g>
<path d="M34.0 408.6 L40.7 408.6 L45.1 410.0 L49.4 412.0 L51.6 412.0 L54.9 413.8 L61.4 418.1 L64.7 417.3 L69.3 419.5 L73.6 418.3 L78.8 419.9 L84.0 418.7 L88.2 416.7 L90.5 417.7 L95.4 415.4 L105.3 413.8 L115.1 412.2 L128.2 410.5 L144.5 410.5 L147.8 409.5 L160.2 409.2 L165.8 404.6 L170.7 400.4 L174.0 400.4 L177.3 401.4 L182.2 401.7 L190.3 403.7 L209.8 404.0 L213.1 403.0 L218.0 403.0 L221.3 403.7 L224.5 402.7 L227.8 404.0 L231.7 413.8 L234.4 407.3 L237.6 405.3 L240.9 405.9 L244.2 408.6 L249.1 402.0 L254.0 399.7 L268.7 399.7 L278.5 401.7 L290.0 402.0 L293.3 403.0 L304.7 403.3 L311.3 405.3 L330.9 407.3 L344.0 409.9 L357.1 412.8 L363.6 410.5 L370.2 408.4 L376.5 405.3 L383.1 403.0 L389.6 401.4 L396.2 400.4 L401.1 403.0 L406.0 401.4 L414.2 400.1 L419.1 401.4 L424.0 403.7 L430.5 400.7 L440.4 402.3 L448.5 405.6 L456.7 408.6 L461.0 407.3 L464.9 409.5 L468.2 408.9 L478.0 411.2 L487.8 413.5 L500.9 416.1 L516.6 418.7 L517.9 424.3 L519.9 437.4 L527.1 439.0 L538.5 441.6" fill="none" stroke="#6a74ff" stroke-width="1.05" stroke-linejoin="round"/>
<rect x="34.0" y="18.8" width="505.0" height="87.0" fill="none" stroke="#262626" stroke-width="0.8"/>
<text x="34.0" y="117.8" font-size="10.3" text-anchor="middle">0</text>
<text x="84.5" y="117.8" font-size="10.3" text-anchor="middle" textLength="16.0" lengthAdjust="spacingAndGlyphs">100</text>
<text x="135.0" y="117.8" font-size="10.3" text-anchor="middle" textLength="16.0" lengthAdjust="spacingAndGlyphs">200</text>
<text x="185.5" y="117.8" font-size="10.3" text-anchor="middle" textLength="16.0" lengthAdjust="spacingAndGlyphs">300</text>
<text x="236.0" y="117.8" font-size="10.3" text-anchor="middle" textLength="16.0" lengthAdjust="spacingAndGlyphs">400</text>
<text x="286.5" y="117.8" font-size="10.3" text-anchor="middle" textLength="16.0" lengthAdjust="spacingAndGlyphs">500</text>
<text x="337.0" y="117.8" font-size="10.3" text-anchor="middle" textLength="16.0" lengthAdjust="spacingAndGlyphs">600</text>
<text x="387.5" y="117.8" font-size="10.3" text-anchor="middle" textLength="16.0" lengthAdjust="spacingAndGlyphs">700</text>
<text x="438.0" y="117.8" font-size="10.3" text-anchor="middle" textLength="16.0" lengthAdjust="spacingAndGlyphs">800</text>
<text x="488.5" y="117.8" font-size="10.3" text-anchor="middle" textLength="16.0" lengthAdjust="spacingAndGlyphs">900</text>
<text x="537.3" y="117.8" font-size="10.3" text-anchor="middle" textLength="21.3" lengthAdjust="spacingAndGlyphs">1000</text>
<text x="32.4" y="23.6" font-size="10.3" text-anchor="end">0</text>
<text x="32.4" y="41.0" font-size="10.3" text-anchor="end" textLength="13.8" lengthAdjust="spacingAndGlyphs">-20</text>
<text x="32.4" y="58.4" font-size="10.3" text-anchor="end" textLength="13.8" lengthAdjust="spacingAndGlyphs">-40</text>
<text x="32.4" y="75.8" font-size="10.3" text-anchor="end" textLength="13.8" lengthAdjust="spacingAndGlyphs">-60</text>
<text x="32.4" y="93.2" font-size="10.3" text-anchor="end" textLength="13.8" lengthAdjust="spacingAndGlyphs">-80</text>
<text x="32.4" y="110.6" font-size="10.3" text-anchor="end" textLength="19.2" lengthAdjust="spacingAndGlyphs">-100</text>
<text x="285.7" y="129.5" font-size="10.4" text-anchor="middle" textLength="59.3" lengthAdjust="spacingAndGlyphs">distance (km)</text>
<text transform="translate(12.3,61.7) rotate(-90)" font-size="10" text-anchor="middle" textLength="49.5" lengthAdjust="spacingAndGlyphs">depth (km)</text>
<rect x="34.0" y="207.6" width="505.0" height="102.20000000000002" fill="none" stroke="#262626" stroke-width="0.8"/>
<text x="34.0" y="320.7" font-size="10.3" text-anchor="middle">0</text>
<text x="84.5" y="320.7" font-size="10.3" text-anchor="middle" textLength="16.0" lengthAdjust="spacingAndGlyphs">100</text>
<text x="135.0" y="320.7" font-size="10.3" text-anchor="middle" textLength="16.0" lengthAdjust="spacingAndGlyphs">200</text>
<text x="185.5" y="320.7" font-size="10.3" text-anchor="middle" textLength="16.0" lengthAdjust="spacingAndGlyphs">300</text>
<text x="236.0" y="320.7" font-size="10.3" text-anchor="middle" textLength="16.0" lengthAdjust="spacingAndGlyphs">400</text>
<text x="286.5" y="320.7" font-size="10.3" text-anchor="middle" textLength="16.0" lengthAdjust="spacingAndGlyphs">500</text>
<text x="337.0" y="320.7" font-size="10.3" text-anchor="middle" textLength="16.0" lengthAdjust="spacingAndGlyphs">600</text>
<text x="387.5" y="320.7" font-size="10.3" text-anchor="middle" textLength="16.0" lengthAdjust="spacingAndGlyphs">700</text>
<text x="438.0" y="320.7" font-size="10.3" text-anchor="middle" textLength="16.0" lengthAdjust="spacingAndGlyphs">800</text>
<text x="488.5" y="320.7" font-size="10.3" text-anchor="middle" textLength="16.0" lengthAdjust="spacingAndGlyphs">900</text>
<text x="537.3" y="320.7" font-size="10.3" text-anchor="middle" textLength="21.3" lengthAdjust="spacingAndGlyphs">1000</text>
<text x="32.4" y="212.8" font-size="10.3" text-anchor="end">0</text>
<text x="32.4" y="233.2" font-size="10.3" text-anchor="end" textLength="13.8" lengthAdjust="spacingAndGlyphs">-20</text>
<text x="32.4" y="253.7" font-size="10.3" text-anchor="end" textLength="13.8" lengthAdjust="spacingAndGlyphs">-40</text>
<text x="32.4" y="274.1" font-size="10.3" text-anchor="end" textLength="13.8" lengthAdjust="spacingAndGlyphs">-60</text>
<text x="32.4" y="294.6" font-size="10.3" text-anchor="end" textLength="13.8" lengthAdjust="spacingAndGlyphs">-80</text>
<text x="32.4" y="315.0" font-size="10.3" text-anchor="end" textLength="19.2" lengthAdjust="spacingAndGlyphs">-100</text>
<text x="285.7" y="332.7" font-size="10.4" text-anchor="middle" textLength="59.3" lengthAdjust="spacingAndGlyphs">distance (km)</text>
<text transform="translate(12.3,249.7) rotate(-90)" font-size="10" text-anchor="middle" textLength="49.5" lengthAdjust="spacingAndGlyphs">depth (km)</text>
<rect x="34.0" y="389.3" width="505.0" height="101.80000000000001" fill="none" stroke="#262626" stroke-width="0.8"/>
<text x="34.0" y="502.9" font-size="10.3" text-anchor="middle">0</text>
<text x="84.5" y="502.9" font-size="10.3" text-anchor="middle" textLength="16.0" lengthAdjust="spacingAndGlyphs">100</text>
<text x="135.0" y="502.9" font-size="10.3" text-anchor="middle" textLength="16.0" lengthAdjust="spacingAndGlyphs">200</text>
<text x="185.5" y="502.9" font-size="10.3" text-anchor="middle" textLength="16.0" lengthAdjust="spacingAndGlyphs">300</text>
<text x="236.0" y="502.9" font-size="10.3" text-anchor="middle" textLength="16.0" lengthAdjust="spacingAndGlyphs">400</text>
<text x="286.5" y="502.9" font-size="10.3" text-anchor="middle" textLength="16.0" lengthAdjust="spacingAndGlyphs">500</text>
<text x="337.0" y="502.9" font-size="10.3" text-anchor="middle" textLength="16.0" lengthAdjust="spacingAndGlyphs">600</text>
<text x="387.5" y="502.9" font-size="10.3" text-anchor="middle" textLength="16.0" lengthAdjust="spacingAndGlyphs">700</text>
<text x="438.0" y="502.9" font-size="10.3" text-anchor="middle" textLength="16.0" lengthAdjust="spacingAndGlyphs">800</text>
<text x="488.5" y="502.9" font-size="10.3" text-anchor="middle" textLength="16.0" lengthAdjust="spacingAndGlyphs">900</text>
<text x="537.3" y="502.9" font-size="10.3" text-anchor="middle" textLength="21.3" lengthAdjust="spacingAndGlyphs">1000</text>
<text x="32.4" y="405.4" font-size="10.3" text-anchor="end" textLength="10.7" lengthAdjust="spacingAndGlyphs">20</text>
<text x="32.4" y="428.0" font-size="10.3" text-anchor="end" textLength="10.7" lengthAdjust="spacingAndGlyphs">40</text>
<text x="32.4" y="450.7" font-size="10.3" text-anchor="end" textLength="10.7" lengthAdjust="spacingAndGlyphs">60</text>
<text x="32.4" y="473.3" font-size="10.3" text-anchor="end" textLength="10.7" lengthAdjust="spacingAndGlyphs">80</text>
<text x="32.4" y="495.9" font-size="10.3" text-anchor="end" textLength="16.0" lengthAdjust="spacingAndGlyphs">100</text>
<text x="285.7" y="514.1" font-size="10.4" text-anchor="middle" textLength="59.3" lengthAdjust="spacingAndGlyphs">distance (km)</text>
<text transform="translate(16.2,440.6) rotate(-90)" font-size="10" text-anchor="middle" textLength="38.2" lengthAdjust="spacingAndGlyphs">EET (km)</text>
<path d="M84.5 389.3v5M84.5 491.1v-5" stroke="#262626" stroke-width="0.7"/>
<path d="M135.0 389.3v5M135.0 491.1v-5" stroke="#262626" stroke-width="0.7"/>
<path d="M185.5 389.3v5M185.5 491.1v-5" stroke="#262626" stroke-width="0.7"/>
<path d="M236.0 389.3v5M236.0 491.1v-5" stroke="#262626" stroke-width="0.7"/>
<path d="M286.5 389.3v5M286.5 491.1v-5" stroke="#262626" stroke-width="0.7"/>
<path d="M337.0 389.3v5M337.0 491.1v-5" stroke="#262626" stroke-width="0.7"/>
<path d="M387.5 389.3v5M387.5 491.1v-5" stroke="#262626" stroke-width="0.7"/>
<path d="M438.0 389.3v5M438.0 491.1v-5" stroke="#262626" stroke-width="0.7"/>
<path d="M488.5 389.3v5M488.5 491.1v-5" stroke="#262626" stroke-width="0.7"/>
<path d="M34.0 400.6h4.3M539.0 400.6h-4.3" stroke="#262626" stroke-width="0.7"/>
<path d="M34.0 423.2h4.3M539.0 423.2h-4.3" stroke="#262626" stroke-width="0.7"/>
<path d="M34.0 445.9h4.3M539.0 445.9h-4.3" stroke="#262626" stroke-width="0.7"/>
<path d="M34.0 468.5h4.3M539.0 468.5h-4.3" stroke="#262626" stroke-width="0.7"/>
<text x="290.0" y="12.8" font-size="12.4" text-anchor="middle" textLength="116.2" lengthAdjust="spacingAndGlyphs">Differential stress MPa</text>
<text x="295.9" y="200.5" font-size="12.4" text-anchor="middle" textLength="144.7" lengthAdjust="spacingAndGlyphs">Brittle/Elastic/Ductile levels</text>
<text x="283.2" y="381.2" font-size="12.4" text-anchor="middle" textLength="135.4" lengthAdjust="spacingAndGlyphs">Effective Elastic Thickness</text>
</svg>
</body></html>
